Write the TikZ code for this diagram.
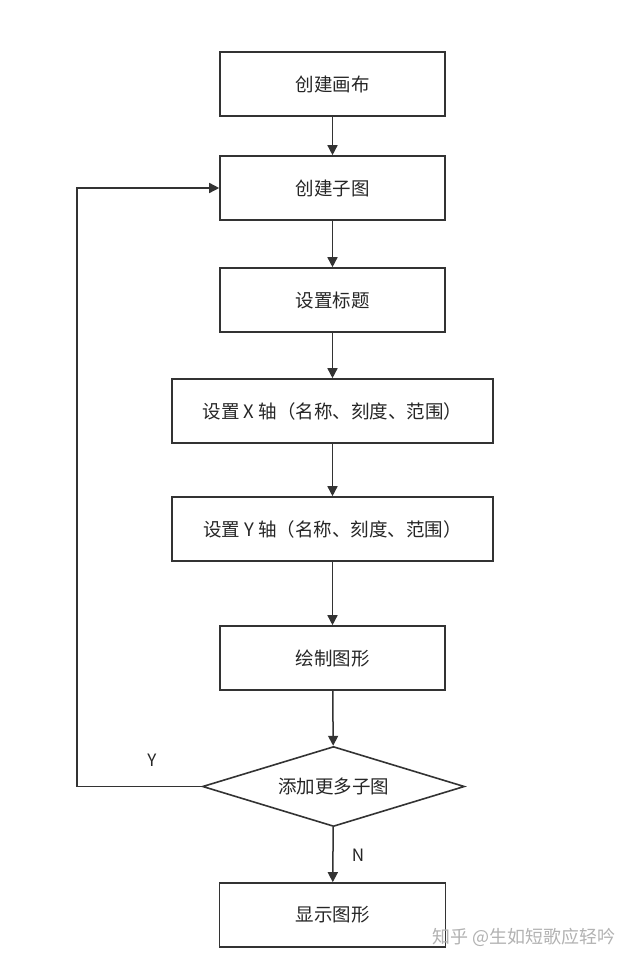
\documentclass[tikz,border=0pt]{standalone}
\usepackage{fontspec}
\setmainfont{Noto Sans CJK SC}
\usetikzlibrary{arrows.meta,shapes.geometric}
\begin{document}
\begin{tikzpicture}[x=1pt,y=-1pt,
  stepbox/.style={draw=black!80,line width=1.6pt,minimum height=64pt,inner sep=0pt,font=\fontsize{18.5}{20}\selectfont,text=black!85},
  decbox/.style={draw=black!80,line width=1.6pt,diamond,aspect=3.25,minimum width=262pt,minimum height=80pt,inner sep=0pt,font=\fontsize{18.5}{20}\selectfont,text=black!85},
  flow/.style={draw=black!80,line width=1.5pt,-{Triangle[width=10pt,length=10pt]}},
  lbl/.style={font=\fontsize{17}{19}\selectfont,text=black!85}]
\useasboundingbox (0,0) rectangle (637,964);
\fill[white] (0,0) rectangle (637,964);
\node[stepbox,minimum width=225pt] (a) at (332.5,84) {创建画布};
\node[stepbox,minimum width=225pt] (b) at (332.5,188) {创建子图};
\node[stepbox,minimum width=225pt] (c) at (332.5,300) {设置标题};
\node[stepbox,minimum width=321pt] (d) at (332.5,411) {设置 X 轴（名称、刻度、范围）};
\node[stepbox,minimum width=321pt] (e) at (332.5,529) {设置 Y 轴（名称、刻度、范围）};
\node[stepbox,minimum width=225pt] (f) at (332.5,658) {绘制图形};
\node[decbox] (g) at (333.5,786.5) {添加更多子图};
\node[stepbox,minimum width=226pt] (h) at (332.5,915) {显示图形};
\coordinate (lb) at (77,786.5);
\coordinate (lt) at (77,188);
\draw[flow] (a) -- (b);
\draw[flow] (b) -- (c);
\draw[flow] (c) -- (d);
\draw[flow] (d) -- (e);
\draw[flow] (e) -- (f);
\draw[flow] (f) -- (g);
\draw[flow] (g) -- (h);
\draw[flow] (g.west) -- (lb) -- (lt) -- (b.west);
\node[lbl] (ylab) at (152,760) {Y};
\node[lbl] (nlab) at (358,855) {N};
\node[font=\fontsize{18}{20}\selectfont,text=black!30] (wm) at (524,937) {知乎 @生如短歌应轻吟};
\end{tikzpicture}
\end{document}
